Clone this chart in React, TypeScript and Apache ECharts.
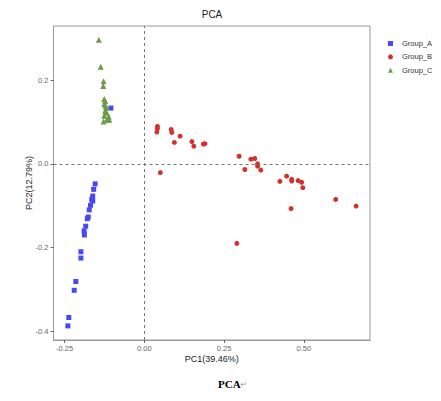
import React, { useEffect, useRef } from "react";
import * as echarts from "echarts";

const groupNames = ["Group_A", "Group_B", "Group_C"];
const groupColors = ["#4848f4", "#d2322d", "#6b9a48"];

const groupA: [number, number][] = [
  [-0.1545, -0.048], [-0.159, -0.061], [-0.162, -0.077], [-0.165, -0.085],
  [-0.162, -0.089], [-0.169, -0.099], [-0.173, -0.110], [-0.176, -0.127],
  [-0.179, -0.131], [-0.184, -0.149], [-0.189, -0.160], [-0.188, -0.170],
  [-0.199, -0.210], [-0.199, -0.225], [-0.215, -0.281], [-0.220, -0.302],
  [-0.237, -0.367], [-0.240, -0.387], [-0.105, 0.133],
];

const groupB: [number, number][] = [
  [0.041, 0.0895], [0.041, 0.084], [0.039, 0.076], [0.084, 0.082],
  [0.086, 0.075], [0.112, 0.066], [0.094, 0.051], [0.149, 0.053],
  [0.155, 0.042], [0.185, 0.047], [0.190, 0.048], [0.050, -0.021],
  [0.297, 0.018], [0.334, 0.011], [0.346, 0.0126], [0.355, 0.0],
  [0.355, -0.0057], [0.315, -0.0136], [0.365, -0.015], [0.425, -0.042],
  [0.446, -0.0295], [0.462, -0.037], [0.462, -0.041], [0.482, -0.040],
  [0.493, -0.044], [0.497, -0.057], [0.460, -0.107], [0.600, -0.085],
  [0.664, -0.101], [0.290, -0.190],
];

const groupC: [number, number][] = [
  [-0.143, 0.296], [-0.137, 0.232], [-0.128, 0.197], [-0.129, 0.186],
  [-0.126, 0.155], [-0.123, 0.150], [-0.126, 0.142], [-0.120, 0.134],
  [-0.123, 0.126], [-0.118, 0.122], [-0.126, 0.115], [-0.112, 0.113],
  [-0.118, 0.105], [-0.128, 0.101], [-0.110, 0.105], [-0.121, 0.138],
];

const xTicks = [-0.25, 0, 0.25, 0.5];
const yTicks = [-0.4, -0.2, 0, 0.2];
const xTickLabels = ["-0.25", "0.00", "0.25", "0.50"];
const yTickLabels = ["-0.4", "-0.2", "0.0", "0.2"];

const chartTitle = "PCA";
const xName = "PC1(39.46%)";
const yName = "PC2(12.79%)";
const caption = "PCA";

export default function App() {
  const ref = useRef<HTMLDivElement>(null);
  useEffect(() => {
    if (!ref.current) return;
    const chart = echarts.init(ref.current, null, { renderer: "svg" });
    const font = "Liberation Sans, Arial, sans-serif";
    const xFmt = (v: number) => {
      const i = xTicks.findIndex((t) => Math.abs(t - v) < 1e-9);
      return i >= 0 ? xTickLabels[i] : "";
    };
    const yFmt = (v: number) => {
      const i = yTicks.findIndex((t) => Math.abs(t - v) < 1e-9);
      return i >= 0 ? yTickLabels[i] : "";
    };
    const symbols = ["rect", "circle", "triangle"];
    const sizes = [5, 5, 6];
    const data = [groupA, groupB, groupC];
    chart.setOption({
      animation: false,
      textStyle: { fontFamily: font },
      grid: {
        left: 53.5,
        right: 71,
        top: 26,
        bottom: 61,
        show: true,
        borderColor: "#999",
        borderWidth: 1,
        containLabel: false,
      },
      graphic: [
        {
          type: "text",
          x: 212,
          y: 14,
          style: {
            text: chartTitle,
            fontSize: 10,
            fontFamily: font,
            fill: "#222",
            textAlign: "center",
            textVerticalAlign: "middle",
          },
        },
        {
          type: "text",
          x: 218,
          y: 384,
          style: {
            text: "{a|" + caption + "}{b|↵}",
            textVerticalAlign: "middle",
            rich: {
              a: {
                fontSize: 11,
                fontWeight: "bold",
                fontFamily: "Liberation Serif, Times New Roman, serif",
                fill: "#000",
              },
              b: {
                fontSize: 8,
                fontFamily: "DejaVu Sans, sans-serif",
                fill: "#999",
              },
            },
          },
        },
      ],
      legend: {
        orient: "vertical",
        left: 388,
        top: 39.5,
        padding: 0,
        itemWidth: 5,
        itemHeight: 5,
        itemGap: 5.4,
        textStyle: { fontSize: 7.5, color: "#333", fontFamily: font, padding: [0, 0, 0, 4] },
        data: groupNames.map((n, i) => ({ name: n, icon: symbols[i] })),
      },
      xAxis: {
        type: "value",
        min: -0.285,
        max: 0.7075,
        name: xName,
        nameLocation: "middle",
        nameGap: 14,
        nameMoveOverlap: false,
        nameTextStyle: { fontSize: 9, color: "#222", fontFamily: font },
        axisLine: { onZero: false, lineStyle: { color: "#999" } },
        axisTick: { show: true, length: 3, lineStyle: { color: "#666" }, customValues: xTicks },
        axisLabel: { fontSize: 7.5, color: "#666", margin: 4, customValues: xTicks, formatter: xFmt },
        splitLine: { show: false },
      },
      yAxis: {
        type: "value",
        min: -0.4207,
        max: 0.329,
        name: yName,
        nameLocation: "middle",
        nameGap: 20,
        nameMoveOverlap: false,
        nameTextStyle: { fontSize: 9, color: "#222", fontFamily: font },
        axisLine: { show: true, onZero: false, lineStyle: { color: "#999" } },
        axisTick: { show: true, length: 3, lineStyle: { color: "#666" }, customValues: yTicks },
        axisLabel: { fontSize: 7.5, color: "#666", margin: 5, customValues: yTicks, formatter: yFmt },
        splitLine: { show: false },
      },
      series: groupNames.map((n, i) => ({
        name: n,
        type: "scatter",
        symbol: symbols[i],
        symbolSize: sizes[i],
        itemStyle: { color: groupColors[i], opacity: 1 },
        data: data[i],
        z: 3 + i,
        ...(i === 0
          ? {
              markLine: {
                silent: true,
                symbol: "none",
                label: { show: false },
                lineStyle: { color: "#777", type: [3, 3], width: 1 },
                data: [{ xAxis: 0 }, { yAxis: 0 }],
              },
            }
          : {}),
      })),
    });
    return () => chart.dispose();
  }, []);
  return (
    <div
      ref={ref}
      style={{ position: "absolute", left: 0, top: 0, width: 441, height: 401 }}
    />
  );
}
